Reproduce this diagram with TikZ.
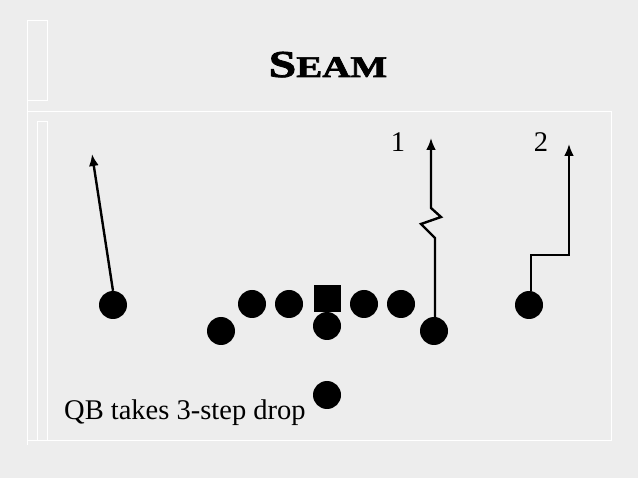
\documentclass[tikz,border=0pt]{standalone}
\usepackage{fontspec}
\setmainfont{Liberation Serif}
\newfontfamily\titlefont[FakeBold=2]{Liberation Serif Bold}
\usetikzlibrary{arrows.meta}
\begin{document}
\begin{tikzpicture}[x=1pt,y=-1pt,
  player/.style={circle,fill=black,minimum size=28pt,inner sep=0pt},
  snapper/.style={rectangle,fill=black,minimum size=27pt,inner sep=0pt},
  route/.style={line width=2.4pt,-{Latex[length=12pt,width=10pt]}},
  frameline/.style={draw=white,line width=0.9pt},
  lbl/.style={font=\fontsize{28.5}{31}\selectfont,inner sep=0pt}]
\fill[gray!14] (0,0) rectangle (638,478);
\useasboundingbox (0,0) rectangle (638,478);
% frame
\draw[frameline] (27,20) rectangle (47,100);
\draw[frameline] (37,121) rectangle (47,440);
\draw[frameline] (27,20) -- (27,445);
\draw[frameline] (27,111) -- (611,111) -- (611,440) -- (27,440);
% title
\node[inner sep=0pt,anchor=base] (title) at (328,77)
  {\scalebox{1.3}[1]{\titlefont\fontsize{38}{40}\selectfont S\fontsize{30}{32}\selectfont EAM}};
% players
\node[player] (wr) at (113,305) {};
\node[player] (lg2) at (252,304) {};
\node[player] (lg1) at (289,304) {};
\node[snapper] (c) at (327,299) {};
\node[player] (rg1) at (364,304) {};
\node[player] (rg2) at (401,304) {};
\node[player] (te) at (221,331) {};
\node[player] (uc) at (327,326) {};
\node[player] (r1) at (434,331) {};
\node[player] (r2) at (529,305) {};
\node[player] (qb) at (327,395) {};
% route endpoints
\coordinate (wrend) at (92,154);
\coordinate (a1) at (435,238);
\coordinate (a2) at (421,224);
\coordinate (a3) at (441,217);
\coordinate (a4) at (431,208);
\coordinate (r1end) at (431,138);
\coordinate (b1) at (532,255);
\coordinate (b2) at (569,255);
\coordinate (r2end) at (569,144);
% routes
\draw[route] (wr.north) -- (wrend);
\draw[route] (r1.center) ++(1,-13) -- (a1) -- (a2) -- (a3) -- (a4) -- (r1end);
\draw[route] (r2.north) ++(2,0) |- (b2) -- (r2end);
% labels
\node[lbl,anchor=base] (n1) at (398,152) {1};
\node[lbl,anchor=base] (n2) at (541,152) {2};
\node[lbl,anchor=base west] (qbtxt) at (64,420) {QB takes 3-step drop};
\end{tikzpicture}
\end{document}
